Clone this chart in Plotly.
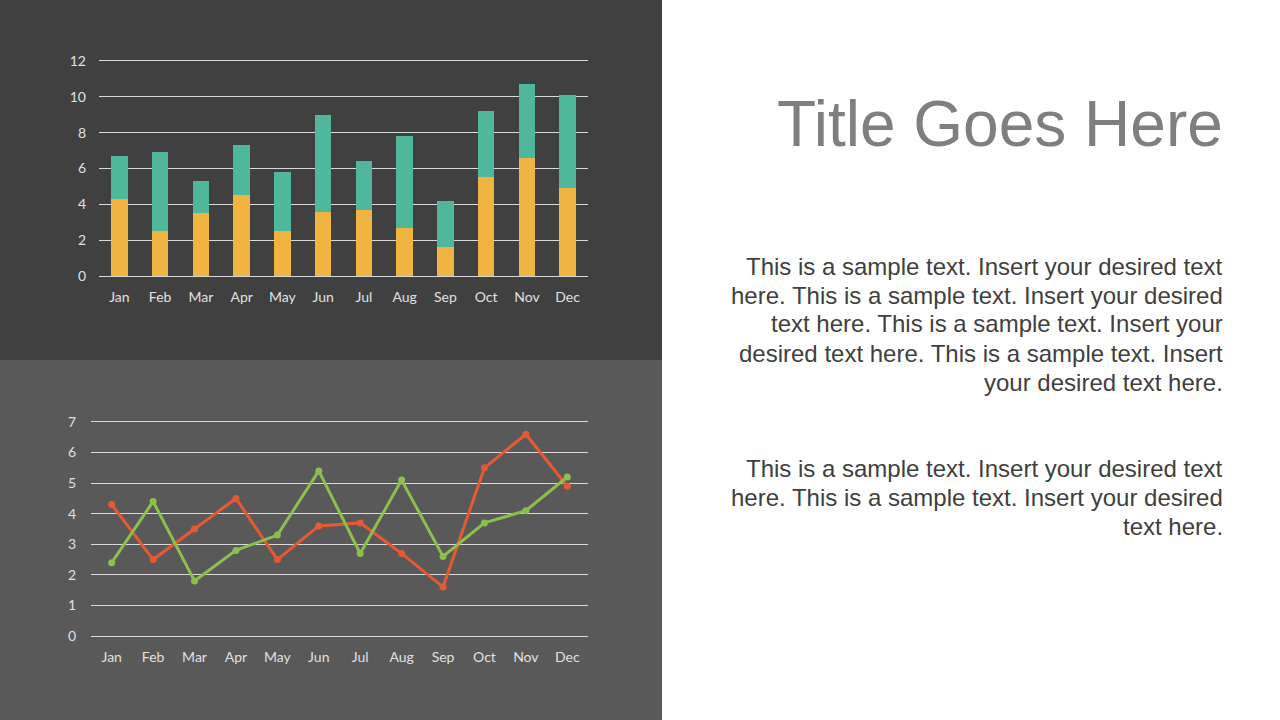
"""Slide with a stacked bar chart, a line chart and some sample text."""

import plotly.graph_objects as go

months = ["Jan", "Feb", "Mar", "Apr", "May", "Jun", "Jul", "Aug", "Sep", "Oct", "Nov", "Dec"]

# two series, shown stacked on top and as lines below
series_a = [4.3, 2.5, 3.5, 4.5, 2.5, 3.6, 3.7, 2.7, 1.6, 5.5, 6.6, 4.9]
series_b = [2.4, 4.4, 1.8, 2.8, 3.3, 5.4, 2.7, 5.1, 2.6, 3.7, 4.1, 5.2]

bar_ticks = [0, 2, 4, 6, 8, 10, 12]
line_ticks = [0, 1, 2, 3, 4, 5, 6, 7]

title_text = "Title Goes Here"
para_1 = [
    "This is a sample text. Insert your desired text",
    "here. This is a sample text. Insert your desired",
    "text here. This is a sample text. Insert your",
    "desired text here. This is a sample text. Insert",
    "your desired text here.",
]
para_2 = [
    "This is a sample text. Insert your desired text",
    "here. This is a sample text. Insert your desired",
    "text here.",
]

W, H = 1280, 720
ORANGE = "#f0b440"
TEAL = "#4fb89c"
RED = "#e65a32"
GREEN = "#8cbf4c"
GRID = "#d9d9d9"
TICK_FONT = dict(family="Lato, Open Sans, sans-serif", size=14, color="#e0e0e0")  # noqa: C408
TEXT_FONT = "Liberation Sans, Arial, sans-serif"

fig = go.Figure()

fig.add_trace(go.Bar(x=months, y=series_a, marker=dict(color=ORANGE, line_width=0),  # noqa: C408
                     width=0.4, xaxis="x", yaxis="y"))
fig.add_trace(go.Bar(x=months, y=series_b, marker=dict(color=TEAL, line_width=0),  # noqa: C408
                     width=0.4, xaxis="x", yaxis="y"))

fig.add_trace(
    go.Scatter(
        x=months, y=series_a, mode="lines+markers",
        line=dict(color=RED, width=3), marker=dict(size=7, color=RED),  # noqa: C408
        xaxis="x2", yaxis="y2",
    )
)
fig.add_trace(
    go.Scatter(
        x=months, y=series_b, mode="lines+markers",
        line=dict(color=GREEN, width=3), marker=dict(size=7, color=GREEN),  # noqa: C408
        xaxis="x2", yaxis="y2",
    )
)

# background panels on the left half
fig.add_shape(type="rect", xref="paper", yref="paper", x0=0, x1=662 / W, y0=0.5, y1=1,
              fillcolor="#404040", line_width=0, layer="below")
fig.add_shape(type="rect", xref="paper", yref="paper", x0=0, x1=662 / W, y0=0, y1=0.5,
              fillcolor="#595959", line_width=0, layer="below")

fig.add_annotation(
    text=title_text, xref="paper", yref="paper", x=1225 / W, y=1 - 124 / H,
    xanchor="right", yanchor="middle", showarrow=False, align="right",
    font=dict(family=TEXT_FONT, size=64, color="#7f7f7f"),  # noqa: C408
)

# body text, one annotation per line so the line spacing matches
for top, lines in ((266, para_1), (468, para_2)):
    for i, line in enumerate(lines):
        fig.add_annotation(
            text=line, xref="paper", yref="paper", x=1225 / W, y=1 - (top + 29 * i) / H,
            xanchor="right", yanchor="middle", showarrow=False, align="right",
            font=dict(family=TEXT_FONT, size=24, color="#404040"),  # noqa: C408
        )

# axis lines (mirrored) stand in for the gridlines at the ends of the range
axis_common = dict(fixedrange=True, automargin=False, tickfont=TICK_FONT)  # noqa: C408
fig.update_layout(
    width=W,
    height=H,
    margin=dict(l=0, r=0, t=0, b=0, autoexpand=False),  # noqa: C408
    paper_bgcolor="white",
    plot_bgcolor="rgba(0,0,0,0)",
    barmode="stack",
    showlegend=False,
    xaxis=dict(  # noqa: C408
        domain=[99 / W, 588 / W], anchor="y", range=[-0.5, 11.5], showgrid=False,
        zeroline=False, showline=True, mirror=True, linecolor=GRID, linewidth=1,
        ticklabelstandoff=8, **axis_common,
    ),
    yaxis=dict(  # noqa: C408
        domain=[1 - 276 / H, 1 - 61 / H], anchor="x", range=[0, 12], tickvals=bar_ticks,
        showgrid=True, gridcolor=GRID, gridwidth=1, zeroline=False, showline=False,
        ticklabelstandoff=12, **axis_common,
    ),
    xaxis2=dict(  # noqa: C408
        domain=[91 / W, 588 / W], anchor="y2", range=[-0.5, 11.5], showgrid=False,
        zeroline=False, showline=True, mirror=True, linecolor=GRID, linewidth=1,
        ticklabelstandoff=8, **axis_common,
    ),
    yaxis2=dict(  # noqa: C408
        domain=[1 - 636 / H, 1 - 422 / H], anchor="x2", range=[0, 7], tickvals=line_ticks,
        showgrid=True, gridcolor=GRID, gridwidth=1, zeroline=False, showline=False,
        ticklabelstandoff=14, **axis_common,
    ),
)

page_css = (
    "document.documentElement.style.margin='0';"
    "document.body.style.margin='0';document.body.style.overflow='hidden';"
)
fig.write_html("out.html", config={"displayModeBar": False}, post_script=page_css)
